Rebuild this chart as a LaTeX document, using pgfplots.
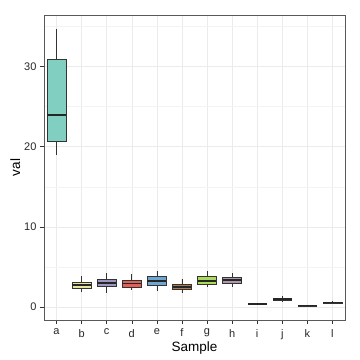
\documentclass[border=0pt]{standalone}
\usepackage{pgfplots}
\pgfplotsset{compat=1.18}
\usepgfplotslibrary{statistics}
\usepackage{fontspec}
\setmainfont{Liberation Sans}
\definecolor{ca}{HTML}{80CFC0}
\definecolor{cb}{HTML}{E6E69E}
\definecolor{cc}{HTML}{9C97C2}
\definecolor{cd}{HTML}{E0615A}
\definecolor{ce}{HTML}{6EA6D2}
\definecolor{cf}{HTML}{B27A52}
\definecolor{cg}{HTML}{A9DA5C}
\definecolor{ch}{HTML}{AE98AE}
\definecolor{ci}{HTML}{BDBDBD}
\definecolor{cj}{HTML}{9A6A9C}
\definecolor{ck}{HTML}{B5D4AE}
\definecolor{cl}{HTML}{D6C65C}
\definecolor{edge}{HTML}{333333}
\definecolor{gridc}{HTML}{EBEBEB}
\begin{document}
\begin{tikzpicture}
\path[use as bounding box] (-44pt,-40pt) rectangle (316pt,320pt);
\begin{axis}[
  at={(0pt,0pt)}, anchor=south west,
  scale only axis, width=301pt, height=305pt,
  xmin=-0.5, xmax=11.5, ymin=-1.6, ymax=36.4,
  xtick={0,...,11},
  xticklabels={a,b,c,d,e,f,g,h,i,j,k,l},
  ytick={0,10,20,30},
  minor ytick={5,15,25,35},
  grid=both,
  major grid style={gridc, line width=0.5pt},
  minor grid style={gridc!60, line width=0.3pt},
  axis line style={draw=black!65, line width=0.7pt},
  tick align=outside,
  major tick length=4pt,
  minor tick length=0pt,
  tick style={black!80, line width=0.5pt},
  xtick pos=bottom, ytick pos=left,
  ticklabel style={font=\fontsize{11}{12}\selectfont, text=black!85},
  xticklabel style={yshift=-1.5pt},
  /pgf/number format/assume math mode=true,
  xlabel={Sample}, ylabel={val},
  label style={font=\fontsize{13.5}{15}\selectfont},
  xlabel style={yshift=4pt},
  ylabel style={yshift=-3pt},
  boxplot/draw direction=y,
  boxplot/box extend=0.75,
  boxplot/whisker extend=0,
]
\pgfplotsset{
  boxplot/every median/.style={line width=1.8pt, draw=black!85},
  boxplot/every box/.style={line width=0.6pt},
  boxplot/every whisker/.style={line width=0.6pt},
}
\addplot[solid, mark=none, draw=edge, fill=ca, boxplot prepared={lower whisker=18.9, lower quartile=20.7, median=23.9, upper quartile=30.9, upper whisker=34.7, draw position=0}] coordinates {};
\addplot[solid, mark=none, draw=edge, fill=cb, boxplot prepared={lower whisker=1.9, lower quartile=2.4, median=2.78, upper quartile=3.07, upper whisker=3.9, draw position=1}] coordinates {};
\addplot[solid, mark=none, draw=edge, fill=cc, boxplot prepared={lower whisker=1.8, lower quartile=2.55, median=3.0, upper quartile=3.45, upper whisker=4.2, draw position=2}] coordinates {};
\addplot[solid, mark=none, draw=edge, fill=cd, boxplot prepared={lower whisker=2.15, lower quartile=2.5, median=2.96, upper quartile=3.4, upper whisker=4.1, draw position=3}] coordinates {};
\addplot[solid, mark=none, draw=edge, fill=ce, boxplot prepared={lower whisker=2.05, lower quartile=2.75, median=3.3, upper quartile=3.8, upper whisker=4.5, draw position=4}] coordinates {};
\addplot[solid, mark=none, draw=edge, fill=cf, boxplot prepared={lower whisker=1.78, lower quartile=2.2, median=2.55, upper quartile=2.87, upper whisker=3.57, draw position=5}] coordinates {};
\addplot[solid, mark=none, draw=edge, fill=cg, boxplot prepared={lower whisker=2.57, lower quartile=2.85, median=3.3, upper quartile=3.8, upper whisker=4.5, draw position=6}] coordinates {};
\addplot[solid, mark=none, draw=edge, fill=ch, boxplot prepared={lower whisker=2.57, lower quartile=3.03, median=3.36, upper quartile=3.7, upper whisker=4.2, draw position=7}] coordinates {};
\addplot[solid, mark=none, draw=edge, fill=ci, boxplot prepared={lower whisker=0.3, lower quartile=0.34, median=0.37, upper quartile=0.4, upper whisker=0.45, draw position=8}] coordinates {};
\addplot[solid, mark=none, draw=edge, fill=cj, boxplot prepared={lower whisker=0.7, lower quartile=0.83, median=1.0, upper quartile=1.16, upper whisker=1.4, draw position=9}] coordinates {};
\addplot[solid, mark=none, draw=edge, fill=ck, boxplot prepared={lower whisker=0.12, lower quartile=0.16, median=0.2, upper quartile=0.24, upper whisker=0.28, draw position=10}] coordinates {};
\addplot[solid, mark=none, draw=edge, fill=cl, boxplot prepared={lower whisker=0.4, lower quartile=0.48, median=0.57, upper quartile=0.66, upper whisker=0.8, draw position=11}] coordinates {};
\end{axis}
\end{tikzpicture}
\end{document}
